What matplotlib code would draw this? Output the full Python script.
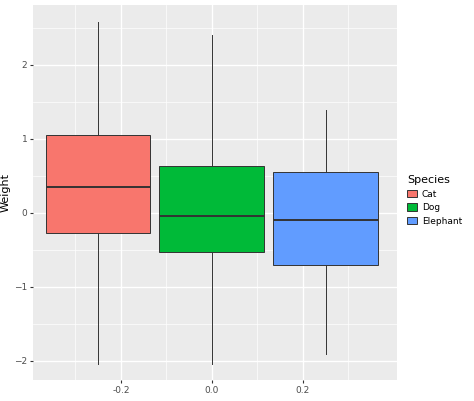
import matplotlib.pyplot as plt
from matplotlib.patches import Patch

species = ['Cat', 'Dog', 'Elephant']
colors = ['#F8766D', '#00BA38', '#619CFF']
positions = [-0.25, 0.0, 0.25]
whislo = [-2.05, -2.05, -1.91]
q1 = [-0.27, -0.53, -0.70]
med = [0.35, -0.04, -0.10]
q3 = [1.05, 0.64, 0.55]
whishi = [2.58, 2.41, 1.39]

fig = plt.figure(figsize=(4.74, 4.01), dpi=100)
ax = fig.add_axes([33/474, 21/401, 364/474, 375/401])
ax.set_facecolor('#EBEBEB')

stats = [dict(whislo=a, q1=b, med=c, q3=d, whishi=e, fliers=[])
         for a, b, c, d, e in zip(whislo, q1, med, q3, whishi)]
bp = ax.bxp(stats, positions=positions, widths=0.23, patch_artist=True,
            showcaps=False, manage_ticks=False,
            boxprops=dict(edgecolor='#333333', linewidth=0.7),
            medianprops=dict(color='#333333', linewidth=1.4),
            whiskerprops=dict(color='#333333', linewidth=0.7))
for b, c in zip(bp['boxes'], colors):
    b.set_facecolor(c)

ax.set_xlim(-0.393, 0.407)
ax.set_ylim(-2.26, 2.81)
ax.set_xticks([-0.2, 0.0, 0.2])
ax.set_xticklabels(['-0.2', '0.0', '0.2'])
ax.set_xticks([-0.3, -0.1, 0.1, 0.3], minor=True)
ax.set_yticks([-2, -1, 0, 1, 2])
ax.set_yticks([-1.5, -0.5, 0.5, 1.5, 2.5], minor=True)
ax.grid(True, which='major', color='white', linewidth=1.0)
ax.grid(True, which='minor', color='white', linewidth=0.5)
ax.set_axisbelow(True)
for s in ax.spines.values():
    s.set_visible(False)
ax.tick_params(which='major', colors='#333333', labelsize=6.5, length=2,
               pad=2, labelcolor='#4D4D4D')
ax.tick_params(which='minor', length=0)
ax.set_ylabel('Weight', fontsize=8)
ax.yaxis.set_label_coords(-0.062, 0.5)

handles = [Patch(facecolor=c, edgecolor='#333333', linewidth=0.7) for c in colors]
fig.legend(handles, species, title='Species', loc='center left',
           bbox_to_anchor=(402/474, 0.5), frameon=False, fontsize=6.5,
           title_fontsize=8, handlelength=1.1, handleheight=0.9,
           handletextpad=0.5, alignment='left', borderaxespad=0.2)

fig.savefig('out.png', dpi=100)
